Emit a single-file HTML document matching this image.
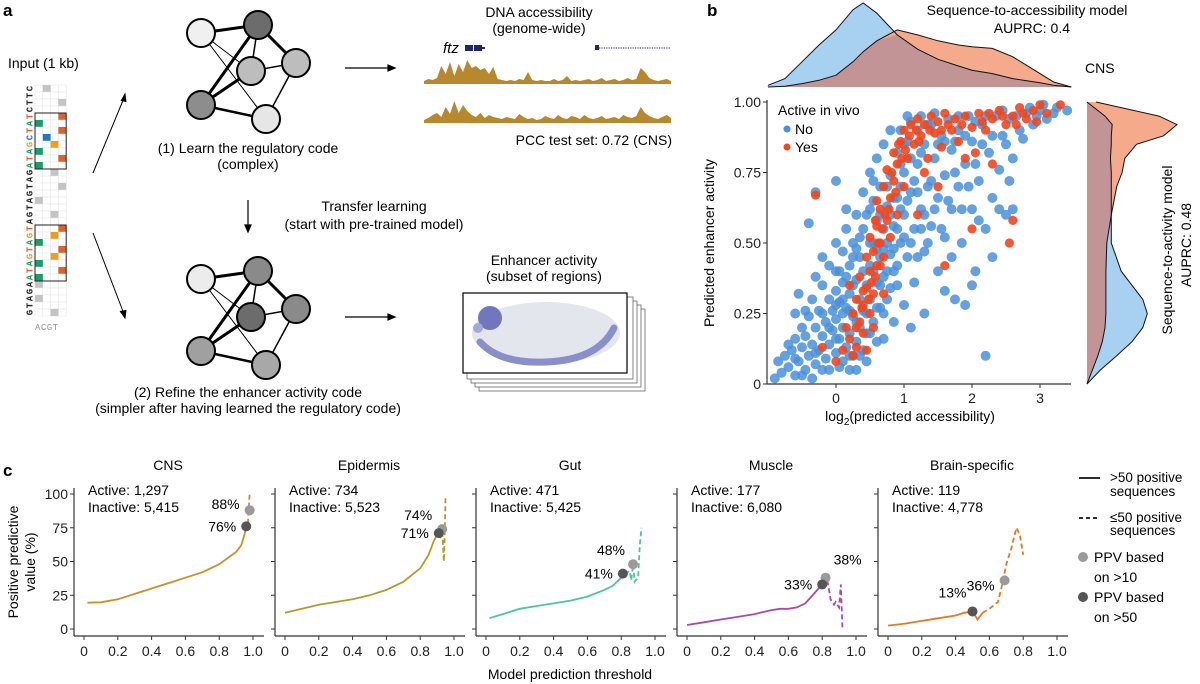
<!DOCTYPE html>
<html><head><meta charset="utf-8"><style>
html,body{margin:0;padding:0;background:#fff}
svg{display:block;font-family:"Liberation Sans",Arial,sans-serif}
</style></head><body>
<svg id="fig" width="1200" height="684" viewBox="0 0 1200 684" xmlns="http://www.w3.org/2000/svg">
<g id="panelA">
<text x="3" y="16" font-size="17" font-weight="bold">a</text>
<text x="8" y="68" font-size="14">Input (1 kb)</text>
<g id="seq"></g>
<text x="35" y="330" font-size="9" fill="#999" font-family="Liberation Mono,monospace" letter-spacing="0.5">ACGT</text>
<g stroke="#000" stroke-width="1" fill="none">
<line x1="93" y1="173" x2="124" y2="98"/><path d="M121,101 L125,94 L126,102" fill="#000"/>
<line x1="93" y1="233" x2="124" y2="314"/><path d="M120,311 L125,318 L126,310" fill="#000"/>
</g>
<g id="net1"></g>
<g id="net2"></g>
<g stroke="#000" stroke-width="1.2">
<line x1="345" y1="68" x2="390" y2="68"/><path d="M388,65 L395,68 L388,71Z" fill="#000"/>
<line x1="345" y1="317" x2="390" y2="317"/><path d="M388,314 L395,317 L388,320Z" fill="#000"/>
<line x1="248" y1="200" x2="248" y2="227"/><path d="M245,225 L248,232 L251,225Z" fill="#000"/>
</g>
<text x="539" y="17" font-size="14" text-anchor="middle">DNA accessibility</text>
<text x="539" y="33" font-size="14" text-anchor="middle">(genome-wide)</text>
<text x="443" y="53" font-size="15" font-style="italic">ftz</text>
<rect x="465" y="45" width="8" height="6" fill="#23246e"/>
<rect x="474" y="45" width="8" height="6" fill="#23246e"/>
<line x1="482" y1="48" x2="485" y2="48" stroke="#23246e" stroke-width="2"/>
<rect x="595" y="45" width="4" height="5" fill="#23246e"/>
<line x1="599" y1="48" x2="671" y2="48" stroke="#6b6bb0" stroke-width="1.5" stroke-dasharray="1.2 1.2"/>
<path id="track1" fill="#b8882e"/>
<path id="track2" fill="#b8882e"/>
<text x="672" y="145" font-size="14" text-anchor="end">PCC test set: 0.72 (CNS)</text>
<text x="248" y="153" font-size="14" text-anchor="middle">(1) Learn the regulatory code</text>
<text x="248" y="169" font-size="14" text-anchor="middle">(complex)</text>
<text x="374" y="211" font-size="14" text-anchor="middle">Transfer learning</text>
<text x="374" y="229" font-size="14" text-anchor="middle">(start with pre-trained model)</text>
<text x="544" y="265" font-size="14" text-anchor="middle">Enhancer activity</text>
<text x="544" y="281" font-size="14" text-anchor="middle">(subset of regions)</text>
<g stroke="#000" stroke-width="0.8" fill="#fff">
<rect x="479" y="309" width="166" height="82" stroke="#666"/>
<rect x="475" y="305" width="166" height="82" stroke="#666"/>
<rect x="471" y="301" width="166" height="82" stroke="#666"/>
<rect x="467" y="297" width="166" height="82" stroke="#666"/>
<rect x="463" y="293" width="164" height="80" stroke-width="1.2"/>
<ellipse cx="546" cy="333" rx="74" ry="31" fill="#e4e6ee" stroke="none"/>
<path d="M480,342 Q500,364 546,362 Q598,360 614,328" fill="none" stroke="#8a8ecb" stroke-width="7" stroke-linecap="round"/>
<circle cx="490" cy="318" r="12" fill="#7276bd" stroke="none"/>
<circle cx="478" cy="328" r="5" fill="#a4a9d6" stroke="none"/>
</g>
<text x="248" y="397" font-size="14" text-anchor="middle">(2) Refine the enhancer activity code</text>
<text x="248" y="413" font-size="14" text-anchor="middle">(simpler after having learned the regulatory code)</text>
</g>

<g id="panelB"></g>
<g id="panelC"></g>
</svg>
<script>
const NS="http://www.w3.org/2000/svg";
function mk(parent,tag,attrs,text){const e=document.createElementNS(NS,tag);for(const k in attrs)e.setAttribute(k,attrs[k]);if(text!==undefined)e.textContent=text;parent.appendChild(e);return e;}

// ---------- panel a: sequence ----------
const seqLetters="CTTCTATCGATAGATGATGATGATGATAAGATGAG".slice(0,33).split("");
const boxRows=[[4,11],[20,27]];
(function(){
 const g=document.getElementById('seq');
 const top=85,rh=7,x0=35,cw=7.8;
 const col={A:0,C:1,G:2,T:3}, colr={A:"#1a9c6b",C:"#1f77c4",G:"#e8a020",T:"#e0602a"};
 seqLetters.forEach((L,i)=>{
  const y=top+i*rh, inBox=boxRows.some(b=>i>=b[0]&&i<=b[1]);
  for(let c=0;c<4;c++){mk(g,'rect',{x:x0+c*cw,y:y,width:cw,height:rh,fill:'#fff',stroke:'#e4e4e4','stroke-width':0.5});}
  if(inBox||i%2===0){mk(g,'rect',{x:x0+col[L]*cw,y:y,width:cw,height:rh,fill:inBox?colr[L]:'#c4c4c4'});}
  mk(g,'text',{x:30,y:y+6,'font-size':9,'font-weight':'bold','font-family':'Liberation Mono,monospace','text-anchor':'middle',fill:inBox?colr[L]:'#222',transform:`rotate(-90 30 ${y+3.5})`},L);
 });
 boxRows.forEach(b=>{const r=mk(g,'rect',{x:x0,y:top+b[0]*rh,width:4*cw,height:(b[1]-b[0]+1)*rh,fill:'none',stroke:'#222','stroke-width':1});
  });
})();

// ---------- panel a: networks ----------
function drawNet(id,dy,shades){
 const g=document.getElementById(id);
 const N=[[201,33],[258,25],[251,71],[296,63],[201,105],[266,119]];
 const E=[[0,1,3],[0,2,1],[0,5,1],[1,4,3],[1,3,3],[2,3,1.5],[2,4,3],[4,5,2.5],[3,5,1.5],[1,2,1.5]];
 E.forEach(e=>mk(g,'line',{x1:N[e[0]][0],y1:N[e[0]][1]+dy,x2:N[e[1]][0],y2:N[e[1]][1]+dy,stroke:'#000','stroke-width':e[2]}));
 N.forEach((n,i)=>{const c=mk(g,'circle',{cx:n[0],cy:n[1]+dy,r:14,fill:shades[i],stroke:'#000','stroke-width':2});
  });
}
drawNet('net1',0,['#f0f0f0','#6c6c6c','#bdbdbd','#bdbdbd','#8d8d8d','#e6e6e6']);
drawNet('net2',246,['#ececec','#8a8a8a','#6c6c6c','#8a8a8a','#a0a0a0','#a8a8a8']);

// ---------- accessibility tracks ----------
const track1Vals=[3,5,4,6,18,10,22,8,20,12,24,16,18,14,16,10,17,5,4,3,4,3,5,4,12,4,3,4,3,3,5,3,4,8,3,4,3,4,5,3,4,6,3,4,5,3,4,6,4,5,16,12,6,4,3,4,5,3];
const track2Vals=[3,5,8,10,6,16,9,22,10,18,12,8,6,10,5,8,6,5,4,6,5,4,9,6,4,5,3,4,7,5,4,8,5,4,7,6,4,8,5,4,5,7,4,5,6,4,8,6,5,7,16,10,7,5,4,6,8,5];
function trackPath(vals,base){const x0=424,x1=671,n=vals.length;let d=`M${x0},${base}`;vals.forEach((v,i)=>{d+=` L${(x0+(x1-x0)*i/(n-1)).toFixed(1)},${base-v}`;});return d+` L${x1},${base} Z`;}
document.getElementById('track1').setAttribute('d',trackPath(track1Vals,84));
document.getElementById('track2').setAttribute('d',trackPath(track2Vals,123));

// ---------- panel b ----------
const densTopX=[-1,-0.75,-0.5,-0.25,0,0.25,0.4,0.6,0.9,1.2,1.5,1.8,2,2.3,2.6,3,3.2,3.46];
const densTopNo=[0.02,0.1,0.3,0.5,0.68,0.92,1.0,0.88,0.62,0.45,0.33,0.25,0.2,0.16,0.1,0.05,0.02,0.0];
const densTopYes=[0.0,0.01,0.04,0.08,0.14,0.3,0.42,0.55,0.68,0.62,0.55,0.5,0.48,0.46,0.36,0.16,0.06,0.0];
const densRightY=[0,0.05,0.1,0.15,0.2,0.25,0.3,0.35,0.4,0.5,0.6,0.7,0.75,0.8,0.85,0.88,0.92,0.95,1.0];
const densRightNo=[0,0.15,0.33,0.5,0.62,0.67,0.62,0.5,0.38,0.27,0.27,0.27,0.27,0.26,0.27,0.27,0.28,0.2,0.0];
const densRightYes=[0,0.06,0.12,0.17,0.2,0.21,0.21,0.21,0.21,0.22,0.27,0.33,0.39,0.42,0.55,0.85,1.0,0.8,0.1];
const xTicksB=[0,1,2,3];
const yTicksB=[0,0.25,0.5,0.75,1.0];
const yTickLabelsB=["0","0.25","0.50","0.75","1.00"];
const pointsNo=[[-0.9,0.02],[-0.85,0.08],[-0.8,0.04],[-0.75,0.1],[-0.7,0.06],[-0.65,0.12],[-0.6,0.03],[-0.6,0.16],[-0.55,0.08],[-0.5,0.13],[-0.5,0.2],[-0.45,0.05],[-0.45,0.17],[-0.4,0.1],[-0.4,0.24],[-0.35,0.14],[-0.35,0.3],[-0.3,0.07],[-0.3,0.2],[-0.25,0.12],[-0.25,0.26],[-0.2,0.17],[-0.2,0.35],[-0.15,0.09],[-0.15,0.22],[-0.1,0.14],[-0.1,0.3],[-0.1,0.42],[-0.05,0.19],[-0.05,0.26],[0,0.11],[0,0.23],[0,0.33],[0,0.5],[0.05,0.16],[0.05,0.29],[0.05,0.4],[0.1,0.08],[0.1,0.2],[0.1,0.36],[0.1,0.47],[0.15,0.13],[0.15,0.27],[0.15,0.55],[0.2,0.18],[0.2,0.32],[0.2,0.42],[0.25,0.1],[0.25,0.24],[0.25,0.5],[0.3,0.15],[0.3,0.37],[0.3,0.6],[0.35,0.2],[0.35,0.3],[0.35,0.45],[0.4,0.12],[0.4,0.26],[0.4,0.55],[0.4,0.68],[0.45,0.35],[0.45,0.18],[0.5,0.3],[0.5,0.42],[0.5,0.62],[0.5,0.75],[0.55,0.22],[0.55,0.5],[0.6,0.36],[0.6,0.58],[0.6,0.8],[0.65,0.27],[0.65,0.45],[0.65,0.7],[0.7,0.16],[0.7,0.38],[0.7,0.55],[0.7,0.85],[0.75,0.3],[0.75,0.63],[0.8,0.46],[0.8,0.74],[0.8,0.9],[0.85,0.22],[0.85,0.56],[0.9,0.35],[0.9,0.66],[0.9,0.82],[0.95,0.5],[0.95,0.9],[1.0,0.28],[1.0,0.6],[1.0,0.75],[1.05,0.45],[1.05,0.86],[1.1,0.68],[1.1,0.93],[1.15,0.36],[1.15,0.55],[1.2,0.78],[1.2,0.9],[1.25,0.62],[1.3,0.47],[1.3,0.85],[1.35,0.7],[1.4,0.92],[1.4,0.56],[1.45,0.8],[1.5,0.4],[1.5,0.66],[1.55,0.88],[1.6,0.74],[1.6,0.52],[1.65,0.94],[1.7,0.62],[1.7,0.83],[1.75,0.3],[1.8,0.7],[1.8,0.9],[1.85,0.5],[1.9,0.78],[1.95,0.95],[2.0,0.62],[2.0,0.86],[2.05,0.4],[2.1,0.72],[2.15,0.92],[2.2,0.55],[2.2,0.1],[2.25,0.82],[2.3,0.66],[2.35,0.95],[2.4,0.76],[2.45,0.88],[2.5,0.6],[2.55,0.94],[2.6,0.8],[2.7,0.9],[2.8,0.96],[2.9,0.92],[3.0,0.97],[3.1,0.94],[3.25,0.98],[3.4,0.97],[1.3,0.25],[1.6,0.33],[1.9,0.28],[2.3,0.45],[2.6,0.62],[-0.4,0.57],[0.0,0.72],[-0.3,0.68],[-0.2,0.05],[0.2,0.05],[0.45,0.08],[-0.6,0.25],[0.3,0.48],[0.55,0.65],[0.75,0.5],[0.95,0.7],[1.25,0.82],[1.75,0.86],[2.05,0.93],[0.6,0.15],[0.85,0.4],[1.1,0.2],[-0.55,0.32],[0.15,0.62],
[-0.7,0.14],[-0.6,0.09],[-0.5,0.03],[-0.45,0.26],[-0.35,0.02],[-0.3,0.11],[-0.3,0.38],[-0.2,0.25],[-0.2,0.45],[-0.1,0.05],[-0.1,0.2],[0,0.16],[0,0.28],[0,0.4],[0.05,0.06],[0.1,0.25],[0.1,0.3],[0.15,0.38],[0.2,0.1],[0.2,0.26],[0.25,0.35],[0.25,0.45],[0.3,0.22],[0.3,0.05],[0.35,0.1],[0.35,0.52],[0.4,0.4],[0.45,0.25],[0.45,0.6],[0.5,0.18],[0.5,0.5],[0.55,0.4],[0.55,0.72],[0.6,0.27],[0.6,0.48],[0.65,0.35],[0.65,0.6],[0.7,0.25],[0.7,0.48],[0.75,0.4],[0.75,0.7],[0.8,0.34],[0.8,0.6],[0.85,0.48],[0.85,0.66],[0.9,0.42],[0.9,0.55],[0.95,0.62],[0.95,0.78],[1.0,0.52],[1.0,0.85],[1.05,0.65],[1.05,0.95],[1.1,0.5],[1.1,0.8],[1.15,0.72],[1.2,0.45],[1.2,0.68],[1.25,0.55],[1.25,0.95],[1.3,0.6],[1.35,0.5],[1.35,0.92],[1.4,0.72],[1.45,0.62],[1.45,0.96],[1.5,0.85],[1.55,0.55],[1.6,0.86],[1.65,0.65],[1.7,0.45],[1.75,0.75],[1.8,0.95],[1.85,0.62],[1.9,0.88],[1.95,0.7],[2.0,0.35],[2.05,0.78],[2.1,0.58],[2.15,0.85],[2.2,0.95],[2.3,0.88],[2.4,0.62],[2.45,0.97],[2.5,0.85],[2.55,0.72],[2.65,0.95],[2.75,0.87],[2.85,0.98],[2.95,0.95],[3.05,0.99],[3.2,0.96]];
const pointsYes=[[-0.3,0.67],[0.0,0.08],[0.1,0.12],[0.15,0.2],[0.2,0.16],[0.25,0.25],[0.3,0.13],[0.3,0.3],[0.35,0.22],[0.35,0.38],[0.4,0.28],[0.4,0.18],[0.45,0.34],[0.45,0.45],[0.5,0.25],[0.5,0.4],[0.5,0.52],[0.55,0.32],[0.55,0.47],[0.6,0.42],[0.6,0.56],[0.6,0.65],[0.65,0.5],[0.65,0.62],[0.7,0.45],[0.7,0.7],[0.75,0.58],[0.75,0.76],[0.8,0.66],[0.8,0.52],[0.85,0.72],[0.85,0.82],[0.9,0.6],[0.9,0.78],[0.95,0.86],[1.0,0.7],[1.0,0.9],[1.05,0.8],[1.1,0.92],[1.15,0.85],[1.2,0.94],[1.25,0.88],[1.3,0.92],[1.35,0.8],[1.4,0.95],[1.45,0.89],[1.5,0.93],[1.55,0.84],[1.6,0.96],[1.7,0.9],[1.75,0.94],[1.8,0.86],[1.9,0.95],[2.0,0.91],[2.05,0.82],[2.1,0.96],[2.2,0.9],[2.3,0.94],[2.4,0.97],[2.5,0.92],[2.6,0.95],[2.7,0.98],[2.8,0.94],[2.9,0.97],[3.0,0.99],[3.1,0.96],[3.3,0.99],[2.55,0.5],[2.6,0.58],[1.6,0.42],[2.0,0.55],[1.2,0.6],[1.5,0.7],[2.3,0.78],[0.25,0.1],[0.45,0.12],[0.2,0.35],[-0.2,0.13],[0.55,0.2],[0.7,0.32],[1.9,0.8],[1.3,0.75],[0.4,0.33],[0.58,0.38],[0.72,0.6],[0.88,0.68],[1.02,0.83],[1.18,0.9],[1.65,0.92],[2.15,0.93],[2.45,0.95],[2.75,0.96],
[0.3,0.2],[0.38,0.27],[0.48,0.3],[0.52,0.36],[0.62,0.5],[0.68,0.55],[0.78,0.62],[0.82,0.75],[0.92,0.85],[0.97,0.8],[1.08,0.88],[1.22,0.86],[1.38,0.9],[1.55,0.9],[1.85,0.92],[2.25,0.96],[2.65,0.92],[2.95,0.93],[0.65,0.42],[0.58,0.58]];
(function(){
 const g=document.getElementById('panelB');
 const X0=767,X1=1071,Y0=384,Y1=102;
 const xs=v=>836+v*68, ys=v=>Y0-(Y0-Y1)*v;
 mk(g,'text',{x:707,y:16,'font-size':17,'font-weight':'bold'},'b');
 const tb=87,th=84;
 const ptsT=(arr)=>densTopX.map((x,i)=>`${xs(x).toFixed(1)},${(tb-arr[i]*th).toFixed(1)}`).join(' L');
 const minT=densTopNo.map((v,i)=>Math.min(v,densTopYes[i]));
 const area=(arr,fill,name)=>{const p=mk(g,'path',{d:`M${X0},${tb} L${ptsT(arr)} L${X1},${tb} Z`,fill:fill,stroke:'none'});};
 area(densTopNo,'#a8d0f0','top-density-no');area(densTopYes,'#f5aa8c','top-density-yes');area(minT,'#c29496','top-density-overlap');
 mk(g,'path',{d:`M${ptsT(densTopNo)}`,fill:'none',stroke:'#111','stroke-width':1});
 mk(g,'path',{d:`M${ptsT(densTopYes)}`,fill:'none',stroke:'#111','stroke-width':1});
 const rb=1087,rw=90;
 const ptsR=(arr)=>densRightY.map((y,i)=>`${(rb+arr[i]*rw).toFixed(1)},${ys(y).toFixed(1)}`).join(' L');
 const minR=densRightNo.map((v,i)=>Math.min(v,densRightYes[i]));
 const areaR=(arr,fill,name)=>{const p=mk(g,'path',{d:`M${rb},${Y0} L${ptsR(arr)} L${rb},${Y1} Z`,fill:fill,stroke:'none'});};
 areaR(densRightNo,'#a8d0f0','right-density-no');areaR(densRightYes,'#f5aa8c','right-density-yes');areaR(minR,'#c29496','right-density-overlap');
 mk(g,'path',{d:`M${ptsR(densRightNo)}`,fill:'none',stroke:'#111','stroke-width':1});
 mk(g,'path',{d:`M${ptsR(densRightYes)}`,fill:'none',stroke:'#111','stroke-width':1});
 pointsNo.forEach(p=>{const c=mk(g,'circle',{cx:xs(p[0]).toFixed(1),cy:ys(p[1]).toFixed(1),r:5,fill:'#4a90d9','fill-opacity':0.85});
  });
 pointsYes.forEach(p=>{const c=mk(g,'circle',{cx:xs(p[0]).toFixed(1),cy:ys(p[1]).toFixed(1),r:4.6,fill:'#f0471f','fill-opacity':0.9});
  });
 mk(g,'line',{x1:X0,y1:Y1-2,x2:X0,y2:Y0,stroke:'#333','stroke-width':1.2});
 mk(g,'line',{x1:X0,y1:Y0,x2:X1,y2:Y0,stroke:'#333','stroke-width':1.2});
 xTicksB.forEach(t=>{mk(g,'line',{x1:xs(t),y1:Y0,x2:xs(t),y2:Y0+4,stroke:'#333'});
  const tx=mk(g,'text',{x:xs(t),y:Y0+19,'font-size':14,'text-anchor':'middle',fill:'#222'},String(t));});
 yTicksB.forEach((t,i)=>{mk(g,'line',{x1:X0-4,y1:ys(t),x2:X0,y2:ys(t),stroke:'#333'});
  const tx=mk(g,'text',{x:X0-6,y:ys(t)+5,'font-size':14,'text-anchor':'end',fill:'#222'},yTickLabelsB[i]);});
 const xt=mk(g,'text',{x:910,y:421,'font-size':14,'text-anchor':'middle'});
 xt.innerHTML='log<tspan font-size="10" dy="4">2</tspan><tspan dy="-4">(predicted accessibility)</tspan>';
 mk(g,'text',{x:714,y:243,'font-size':14,'text-anchor':'middle',transform:'rotate(-90 714 243)'},'Predicted enhancer activity');
 mk(g,'text',{x:778,y:115,'font-size':14},'Active in vivo');
 mk(g,'circle',{cx:787,cy:129,r:3.5,fill:'#4a90d9'});
 mk(g,'text',{x:795,y:134,'font-size':14},'No');
 mk(g,'circle',{cx:787,cy:147,r:3.5,fill:'#f0471f'});
 mk(g,'text',{x:795,y:152,'font-size':14},'Yes');
 mk(g,'text',{x:1027,y:15,'font-size':14,'text-anchor':'middle'},'Sequence-to-accessibility model');
 mk(g,'text',{x:1070,y:33,'font-size':14,'text-anchor':'end'},'AUPRC: 0.4');
 mk(g,'text',{x:1085,y:73,'font-size':14},'CNS');
 mk(g,'text',{x:1172,y:250,'font-size':14,'text-anchor':'middle',transform:'rotate(-90 1172 250)'},'Sequence-to-activity model');
 mk(g,'text',{x:1191,y:245,'font-size':14,'text-anchor':'middle',transform:'rotate(-90 1191 245)'},'AUPRC: 0.48');
})();

// ---------- panel c ----------
const tissues=["CNS","Epidermis","Gut","Muscle","Brain-specific"];
const activeCounts=["1,297","734","471","177","119"];
const inactiveCounts=["5,415","5,523","5,425","6,080","4,778"];
const lineColors=["#c8912c","#b39a2e","#4fc49a","#a64ca6","#e07a2a"];
const solidCNS=[[0.02,19.5],[0.1,19.8],[0.2,22],[0.3,26],[0.4,30],[0.5,34],[0.6,38],[0.7,42],[0.8,48],[0.9,57],[0.93,62],[0.95,70],[0.96,76],[0.97,78]];
const dashCNS=[[0.97,78],[0.975,90],[0.98,100]];
const solidEpi=[[0,12],[0.1,15],[0.2,18],[0.3,20],[0.4,22],[0.5,25],[0.6,29],[0.7,35],[0.8,45],[0.85,55],[0.88,65],[0.9,70],[0.92,68],[0.93,72]];
const dashEpi=[[0.93,72],[0.94,50],[0.945,70],[0.95,97]];
const solidGut=[[0.02,8],[0.1,11],[0.2,15],[0.3,17],[0.4,19],[0.5,21],[0.6,24],[0.7,29],[0.75,32],[0.8,38],[0.82,41]];
const dashGut=[[0.82,41],[0.85,43],[0.86,36],[0.87,48],[0.88,35],[0.9,38],[0.91,62],[0.92,75]];
const solidMus=[[0,3],[0.1,5],[0.2,7],[0.3,9],[0.4,11],[0.5,14],[0.55,15],[0.6,15],[0.65,16],[0.7,19],[0.75,26],[0.8,33],[0.83,36]];
const dashMus=[[0.83,36],[0.85,22],[0.87,18],[0.88,20],[0.9,16],[0.91,33],[0.92,0]];
const solidBrain=[[0,2.5],[0.1,4],[0.2,6],[0.3,8],[0.4,10],[0.45,12],[0.5,13],[0.53,7],[0.56,12]];
const dashBrain=[[0.56,12],[0.6,15],[0.65,20],[0.68,35],[0.7,48],[0.73,60],[0.76,75],[0.78,70],[0.8,55]];
const ppv10=[[0.98,88],[0.93,74],[0.87,48],[0.82,38],[0.69,36]];
const ppv50=[[0.96,76],[0.91,71],[0.81,41],[0.8,33],[0.5,13]];
const ppv10Labels=["88%","74%","48%","38%","36%"];
const ppv50Labels=["76%","71%","41%","33%","13%"];
const xTicksC=[0,0.2,0.4,0.6,0.8,1.0];
const xTickLabelsC=["0","0.2","0.4","0.6","0.8","1.0"];
const yTicksC=[0,25,50,75,100];
(function(){
 const g=document.getElementById('panelC');
 const solids=[solidCNS,solidEpi,solidGut,solidMus,solidBrain];
 const dashes=[dashCNS,dashEpi,dashGut,dashMus,dashBrain];
 const lab10=[[-10,-6,'end'],[-10,-14,'end'],[-8,-14,'end'],[8,-18,'start'],[-10,5,'end']];
 const lab50=[[-10,5,'end'],[-10,5,'end'],[-10,5,'end'],[-10,5,'end'],[-6,-14,'end']];
 mk(g,'text',{x:3,y:476,'font-size':17,'font-weight':'bold'},'c');
 tissues.forEach((name,i)=>{
  const x0=84+i*201, xs=v=>x0+v*169, ys=v=>629-v*1.35;
  const sg=mk(g,'g',{});
  mk(sg,'line',{x1:x0-10,y1:488,x2:x0-10,y2:636,stroke:'#333','stroke-width':1.2});
  mk(sg,'line',{x1:x0-10,y1:636,x2:x0+180,y2:636,stroke:'#333','stroke-width':1.2});
  yTicksC.forEach(t=>{mk(sg,'line',{x1:x0-14,y1:ys(t),x2:x0-10,y2:ys(t),stroke:'#333'});
   if(i===0){const tx=mk(sg,'text',{x:x0-16,y:ys(t)+5,'font-size':14,'text-anchor':'end',fill:'#222'},String(t));}});
  xTicksC.forEach((t,k)=>{mk(sg,'line',{x1:xs(t),y1:636,x2:xs(t),y2:640,stroke:'#333'});
   const tx=mk(sg,'text',{x:xs(t),y:656,'font-size':14,'text-anchor':'middle',fill:'#222'},xTickLabelsC[k]);});
  const ti=mk(sg,'text',{x:x0+84,y:470,'font-size':14,'text-anchor':'middle'},name);
  mk(sg,'text',{x:x0+4,y:495,'font-size':14},'Active: '+activeCounts[i]);
  mk(sg,'text',{x:x0+4,y:512,'font-size':14},'Inactive: '+inactiveCounts[i]);
  const toD=a=>'M'+a.map(p=>`${xs(p[0]).toFixed(1)},${ys(p[1]).toFixed(1)}`).join(' L');
  const sl=mk(sg,'path',{d:toD(solids[i]),fill:'none',stroke:lineColors[i],'stroke-width':1.8});
  const dl=mk(sg,'path',{d:toD(dashes[i]),fill:'none',stroke:lineColors[i],'stroke-width':1.8,'stroke-dasharray':'5 3'});
  const p10=ppv10[i],p50=ppv50[i];
  const c1=mk(sg,'circle',{cx:xs(p10[0]),cy:ys(p10[1]),r:5,fill:'#9a9a9a'});
  const c2=mk(sg,'circle',{cx:xs(p50[0]),cy:ys(p50[1]),r:5,fill:'#555'});
  mk(sg,'text',{x:xs(p10[0])+lab10[i][0],y:ys(p10[1])+lab10[i][1]+5,'font-size':14,'text-anchor':lab10[i][2]},ppv10Labels[i]);
  mk(sg,'text',{x:xs(p50[0])+lab50[i][0],y:ys(p50[1])+lab50[i][1],'font-size':14,'text-anchor':lab50[i][2]},ppv50Labels[i]);
 });
 mk(g,'text',{x:18,y:562,'font-size':14,'text-anchor':'middle',transform:'rotate(-90 18 562)'},'Positive predictive');
 mk(g,'text',{x:35,y:562,'font-size':14,'text-anchor':'middle',transform:'rotate(-90 35 562)'},'value (%)');
 mk(g,'text',{x:570,y:679,'font-size':14,'text-anchor':'middle'},'Model prediction threshold');
 const lg=mk(g,'g',{});
 mk(lg,'line',{x1:1079,y1:478,x2:1100,y2:478,stroke:'#111','stroke-width':1.8});
 mk(lg,'text',{x:1110,y:482,'font-size':13.5},'>50 positive');
 mk(lg,'text',{x:1110,y:496,'font-size':13.5},'sequences');
 mk(lg,'line',{x1:1079,y1:518,x2:1100,y2:518,stroke:'#111','stroke-width':1.8,'stroke-dasharray':'4 3'});
 mk(lg,'text',{x:1110,y:522,'font-size':13.5},'≤50 positive');
 mk(lg,'text',{x:1110,y:535,'font-size':13.5},'sequences');
 mk(lg,'circle',{cx:1083,cy:557,r:5,fill:'#9a9a9a'});
 mk(lg,'text',{x:1094,y:562,'font-size':14},'PPV based');
 mk(lg,'text',{x:1094,y:582,'font-size':14},'on >10');
 mk(lg,'circle',{cx:1083,cy:597,r:5,fill:'#555'});
 mk(lg,'text',{x:1094,y:602,'font-size':14},'PPV based');
 mk(lg,'text',{x:1094,y:622,'font-size':14},'on >50');
})();
</script>
</body></html>
